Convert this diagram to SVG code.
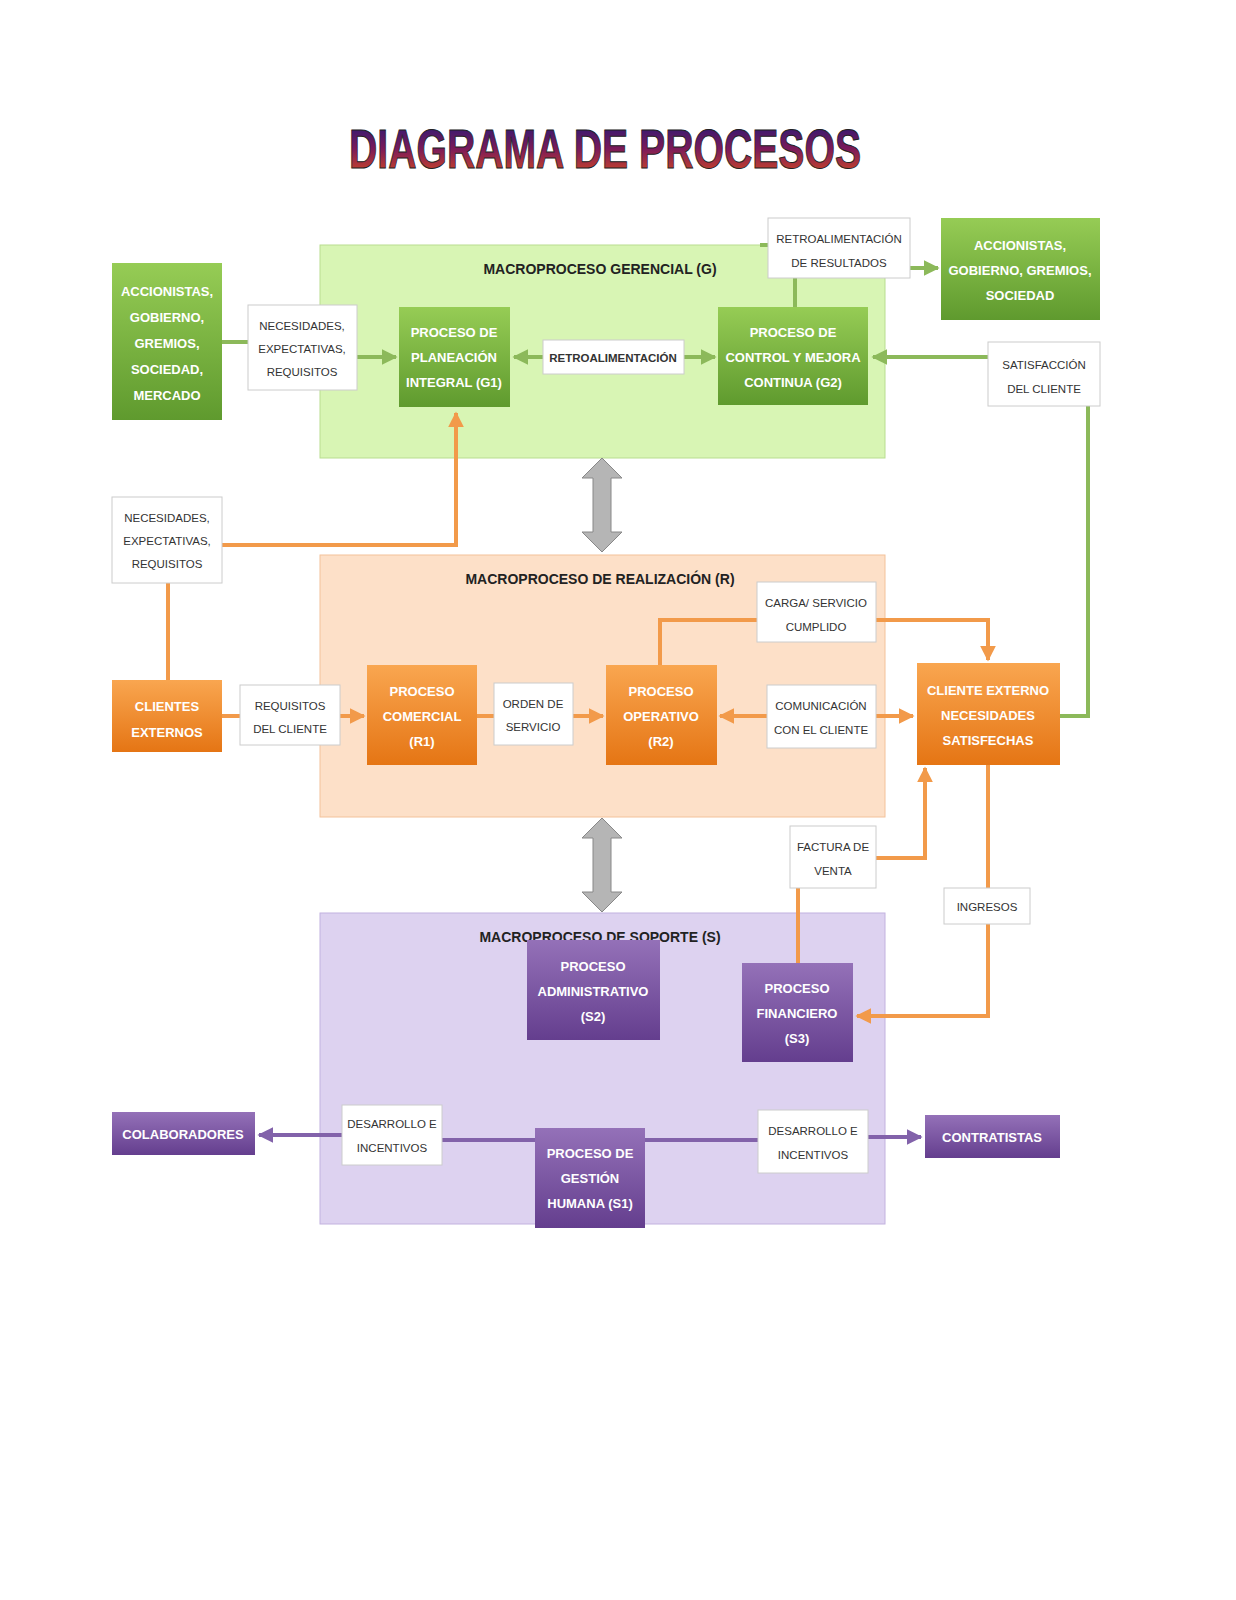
<svg xmlns="http://www.w3.org/2000/svg" width="1236" height="1600" viewBox="0 0 1236 1600">
<defs>
<linearGradient id="tg" x1="0" y1="0" x2="0" y2="1"><stop offset="0" stop-color="#1a1a7a"/><stop offset="0.5" stop-color="#7a1a5a"/><stop offset="1" stop-color="#e0501a"/></linearGradient>
<linearGradient id="gg" x1="0" y1="0" x2="0" y2="1"><stop offset="0" stop-color="#96cc55"/><stop offset="1" stop-color="#5f9a2e"/></linearGradient>
<linearGradient id="og" x1="0" y1="0" x2="0" y2="1"><stop offset="0" stop-color="#f9a650"/><stop offset="1" stop-color="#e57514"/></linearGradient>
<linearGradient id="pg" x1="0" y1="0" x2="0" y2="1"><stop offset="0" stop-color="#9471b8"/><stop offset="1" stop-color="#643e8e"/></linearGradient>
<marker id="ag" viewBox="0 0 10 10" refX="9" refY="5" markerWidth="4" markerHeight="4" orient="auto"><path d="M0,0L10,5L0,10z" fill="#8cb95a"/></marker>
<marker id="ao" viewBox="0 0 10 10" refX="9" refY="5" markerWidth="4" markerHeight="4" orient="auto"><path d="M0,0L10,5L0,10z" fill="#f29a4a"/></marker>
<marker id="ap" viewBox="0 0 10 10" refX="9" refY="5" markerWidth="4" markerHeight="4" orient="auto"><path d="M0,0L10,5L0,10z" fill="#8262aa"/></marker>
</defs>
<style>
text{font-family:"Liberation Sans",Arial,sans-serif;text-anchor:middle}
.n text{fill:#fff;font-weight:bold;font-size:13px}
.lb rect{fill:#fff;stroke:#ccc;stroke-width:1}
.lb text{fill:#333;font-size:11.5px}
.mt{font-weight:bold;font-size:14px;fill:#222}
.cg{stroke:#8cb95a;stroke-width:4;fill:none}
.co{stroke:#f29a4a;stroke-width:4;fill:none}
.cp{stroke:#8262aa;stroke-width:4;fill:none}
</style>
<rect width="1236" height="1600" fill="#fff"/>
<text x="605" y="168" font-size="56" font-weight="bold" fill="url(#tg)" stroke="#222" stroke-width="1" font-family="'Liberation Sans',sans-serif" textLength="512" lengthAdjust="spacingAndGlyphs">DIAGRAMA DE PROCESOS</text>

<g id="macro-g"><rect x="320" y="245" width="565" height="213" fill="#d8f5b4" stroke="#b9dd90"/><text class="mt" x="600" y="274">MACROPROCESO GERENCIAL (G)</text></g>
<g id="macro-r"><rect x="320" y="555" width="565" height="262" fill="#fde0c8" stroke="#f3c29a"/><text class="mt" x="600" y="584">MACROPROCESO DE REALIZACIÓN (R)</text></g>
<g id="macro-s"><rect x="320" y="913" width="565" height="311" fill="#ddd2f0" stroke="#c2b2df"/><text class="mt" x="600" y="942">MACROPROCESO DE SOPORTE (S)</text></g>

<g id="connectors">
<path class="cg" d="M222,342H248"/>
<path class="cg" d="M357,357H396" marker-end="url(#ag)"/>
<path class="cg" d="M543,357H514" marker-end="url(#ag)"/>
<path class="cg" d="M684,357H715" marker-end="url(#ag)"/>
<path class="cg" d="M795,307V278"/>
<path class="cg" d="M768,245H760"/>
<path class="cg" d="M910,268H938" marker-end="url(#ag)"/>
<path class="cg" d="M988,357H873" marker-end="url(#ag)"/>
<path class="cg" d="M1088,406V716H1060"/>
<path class="co" d="M222,545H456V413" marker-end="url(#ao)"/>
<path class="co" d="M168,583V680"/>
<path class="co" d="M222,716H240"/>
<path class="co" d="M340,716H364" marker-end="url(#ao)"/>
<path class="co" d="M477,716H494"/>
<path class="co" d="M573,716H603" marker-end="url(#ao)"/>
<path class="co" d="M767,716H720" marker-end="url(#ao)"/>
<path class="co" d="M876,716H913" marker-end="url(#ao)"/>
<path class="co" d="M660,665V620H757"/>
<path class="co" d="M876,620H988V660" marker-end="url(#ao)"/>
<path class="co" d="M798,963V888"/>
<path class="co" d="M876,858H925V768" marker-end="url(#ao)"/>
<path class="co" d="M988,765V888"/>
<path class="co" d="M988,924V1016H857" marker-end="url(#ao)"/>
<path class="cp" d="M535,1140H442"/>
<path class="cp" d="M342,1135H259" marker-end="url(#ap)"/>
<path class="cp" d="M645,1140H758"/>
<path class="cp" d="M868,1137H921" marker-end="url(#ap)"/>
<path d="M602,458L622,478H611V532H622L602,552L582,532H593V478H582Z" fill="#b5b5b5" stroke="#888"/>
<path d="M602,818L622,838H611V892H622L602,912L582,892H593V838H582Z" fill="#b5b5b5" stroke="#888"/>
</g>

<g id="n-accionistas-l" class="n"><rect x="112" y="263" width="110" height="157" fill="url(#gg)"/><text x="167" y="296">ACCIONISTAS,</text><text x="167" y="322">GOBIERNO,</text><text x="167" y="348">GREMIOS,</text><text x="167" y="374">SOCIEDAD,</text><text x="167" y="400">MERCADO</text></g>
<g id="n-g1" class="n"><rect x="399" y="307" width="111" height="100" fill="url(#gg)"/><text x="454" y="337">PROCESO DE</text><text x="454" y="362">PLANEACIÓN</text><text x="454" y="387">INTEGRAL (G1)</text></g>
<g id="n-g2" class="n"><rect x="718" y="307" width="150" height="98" fill="url(#gg)"/><text x="793" y="337">PROCESO DE</text><text x="793" y="362">CONTROL Y MEJORA</text><text x="793" y="387">CONTINUA (G2)</text></g>
<g id="n-accionistas-r" class="n"><rect x="941" y="218" width="159" height="102" fill="url(#gg)"/><text x="1020" y="250">ACCIONISTAS,</text><text x="1020" y="275">GOBIERNO, GREMIOS,</text><text x="1020" y="300">SOCIEDAD</text></g>
<g id="n-clientes" class="n"><rect x="112" y="680" width="110" height="72" fill="url(#og)"/><text x="167" y="711">CLIENTES</text><text x="167" y="737">EXTERNOS</text></g>
<g id="n-r1" class="n"><rect x="367" y="665" width="110" height="100" fill="url(#og)"/><text x="422" y="696">PROCESO</text><text x="422" y="721">COMERCIAL</text><text x="422" y="746">(R1)</text></g>
<g id="n-r2" class="n"><rect x="606" y="665" width="111" height="100" fill="url(#og)"/><text x="661" y="696">PROCESO</text><text x="661" y="721">OPERATIVO</text><text x="661" y="746">(R2)</text></g>
<g id="n-cliente-ext" class="n"><rect x="917" y="663" width="143" height="102" fill="url(#og)"/><text x="988" y="695">CLIENTE EXTERNO</text><text x="988" y="720">NECESIDADES</text><text x="988" y="745">SATISFECHAS</text></g>
<g id="n-s2" class="n"><rect x="527" y="940" width="133" height="100" fill="url(#pg)"/><text x="593" y="971">PROCESO</text><text x="593" y="996">ADMINISTRATIVO</text><text x="593" y="1021">(S2)</text></g>
<g id="n-s3" class="n"><rect x="742" y="963" width="111" height="99" fill="url(#pg)"/><text x="797" y="993">PROCESO</text><text x="797" y="1018">FINANCIERO</text><text x="797" y="1043">(S3)</text></g>
<g id="n-s1" class="n"><rect x="535" y="1128" width="110" height="100" fill="url(#pg)"/><text x="590" y="1158">PROCESO DE</text><text x="590" y="1183">GESTIÓN</text><text x="590" y="1208">HUMANA (S1)</text></g>
<g id="n-colab" class="n"><rect x="112" y="1112" width="143" height="43" fill="url(#pg)"/><text x="183" y="1139">COLABORADORES</text></g>
<g id="n-contrat" class="n"><rect x="925" y="1115" width="135" height="43" fill="url(#pg)"/><text x="992" y="1142">CONTRATISTAS</text></g>

<g id="l1" class="lb"><rect x="248" y="305" width="109" height="85"/><text x="302" y="330">NECESIDADES,</text><text x="302" y="353">EXPECTATIVAS,</text><text x="302" y="376">REQUISITOS</text></g>
<g id="l2" class="lb"><rect x="543" y="340" width="141" height="34"/><text x="613" y="362" font-weight="bold" fill="#222">RETROALIMENTACIÓN</text></g>
<g id="l3" class="lb"><rect x="768" y="218" width="142" height="60"/><text x="839" y="243">RETROALIMENTACIÓN</text><text x="839" y="267">DE RESULTADOS</text></g>
<g id="l4" class="lb"><rect x="988" y="342" width="112" height="64"/><text x="1044" y="369">SATISFACCIÓN</text><text x="1044" y="393">DEL CLIENTE</text></g>
<g id="l5" class="lb"><rect x="112" y="497" width="110" height="86"/><text x="167" y="522">NECESIDADES,</text><text x="167" y="545">EXPECTATIVAS,</text><text x="167" y="568">REQUISITOS</text></g>
<g id="l6" class="lb"><rect x="240" y="685" width="100" height="60"/><text x="290" y="710">REQUISITOS</text><text x="290" y="733">DEL CLIENTE</text></g>
<g id="l7" class="lb"><rect x="494" y="683" width="79" height="62"/><text x="533" y="708">ORDEN DE</text><text x="533" y="731">SERVICIO</text></g>
<g id="l8" class="lb"><rect x="757" y="582" width="119" height="60"/><text x="816" y="607">CARGA/ SERVICIO</text><text x="816" y="631">CUMPLIDO</text></g>
<g id="l9" class="lb"><rect x="767" y="685" width="109" height="63"/><text x="821" y="710">COMUNICACIÓN</text><text x="821" y="734">CON EL CLIENTE</text></g>
<g id="l10" class="lb"><rect x="790" y="826" width="86" height="62"/><text x="833" y="851">FACTURA DE</text><text x="833" y="875">VENTA</text></g>
<g id="l11" class="lb"><rect x="944" y="888" width="86" height="36"/><text x="987" y="911">INGRESOS</text></g>
<g id="l12" class="lb"><rect x="342" y="1105" width="100" height="60"/><text x="392" y="1128">DESARROLLO E</text><text x="392" y="1152">INCENTIVOS</text></g>
<g id="l13" class="lb"><rect x="758" y="1110" width="110" height="63"/><text x="813" y="1135">DESARROLLO E</text><text x="813" y="1159">INCENTIVOS</text></g>
</svg>
